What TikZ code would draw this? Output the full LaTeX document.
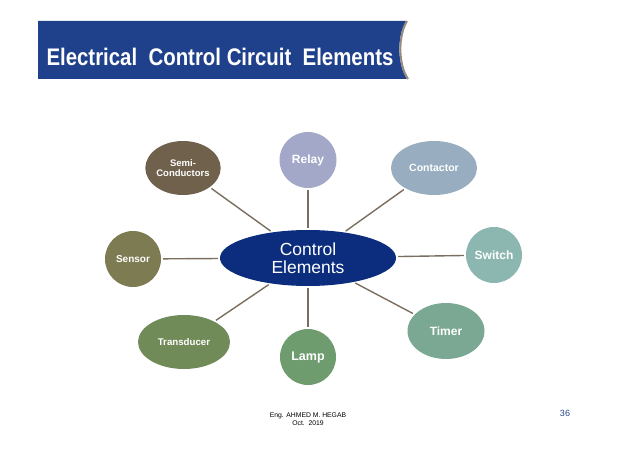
\documentclass[tikz,border=0pt]{standalone}
\usepackage{fontspec}
\setmainfont{Liberation Sans}
\usetikzlibrary{shapes.geometric}

\definecolor{banner}{RGB}{31,64,138}
\definecolor{hubblue}{RGB}{12,45,125}
\definecolor{linkgray}{RGB}{122,110,96}
\definecolor{semic}{RGB}{112,97,76}
\definecolor{relayc}{RGB}{164,168,200}
\definecolor{sensorc}{RGB}{124,123,82}
\definecolor{contc}{RGB}{152,174,192}
\definecolor{switchc}{RGB}{140,182,176}
\definecolor{transc}{RGB}{112,138,88}
\definecolor{lampc}{RGB}{110,156,110}
\definecolor{timerc}{RGB}{122,168,146}
\definecolor{pagenum}{RGB}{40,70,140}

\begin{document}
\begin{tikzpicture}[
  x=1pt, y=-1pt,
  bubble/.style={ellipse, inner sep=0pt, text=white, align=center, font=\bfseries\fontsize{10}{11}\selectfont},
  hub/.style={ellipse, fill=hubblue, inner sep=0pt, text=white, align=center, font=\fontsize{17.5}{18}\selectfont},
  link/.style={draw=linkgray, line width=1.4pt, shorten <=2pt, shorten >=2pt},
  note/.style={align=center, font=\fontsize{6.8}{7.8}\selectfont}
]
\useasboundingbox (0,0) rectangle (638,452);

% title banner
\fill[banner] (38,21) -- (406,21) .. controls (397,36) and (397,64) .. (407,79) -- (38,79) -- cycle;
\draw[draw=linkgray!80, line width=2pt] (407,21) .. controls (398,36) and (398,64) .. (408,79);
\node[anchor=west, text=white, font=\bfseries\fontsize{24}{25}\selectfont] (title) at (43,57)
  {\scalebox{0.85}[1]{Electrical\ \ Control Circuit\ \ Elements}};

% centre
\node[hub, minimum width=176pt, minimum height=56pt] (hub) at (308,258) {Control\\Elements};

% satellites
\node[bubble, fill=semic, minimum width=72pt, minimum height=54pt, font=\bfseries\fontsize{9.5}{10.5}\selectfont] (semi) at (183,168) {Semi-\\Conductors};
\node[bubble, fill=relayc, minimum width=57pt, minimum height=56pt, font=\bfseries\fontsize{12}{13}\selectfont] (relay) at (308,160) {Relay};
\node[bubble, fill=contc, minimum width=86pt, minimum height=54pt, font=\bfseries\fontsize{10.5}{11}\selectfont] (contactor) at (434,168) {Contactor};
\node[bubble, fill=sensorc, minimum width=56pt, minimum height=56pt] (sensor) at (133,259) {Sensor};
\node[bubble, fill=switchc, minimum width=56pt, minimum height=56pt, font=\bfseries\fontsize{12}{13}\selectfont] (switch) at (494,255) {Switch};
\node[bubble, fill=transc, minimum width=92pt, minimum height=54pt, font=\bfseries\fontsize{9.7}{10.5}\selectfont] (transducer) at (184,342) {Transducer};
\node[bubble, fill=lampc, minimum width=56pt, minimum height=56pt, font=\bfseries\fontsize{12.5}{13}\selectfont] (lamp) at (308,357) {Lamp};
\node[bubble, fill=timerc, minimum width=77pt, minimum height=56pt, font=\bfseries\fontsize{12}{13}\selectfont] (timer) at (446,331) {Timer};

\foreach \n in {semi,relay,contactor,sensor,switch,transducer,lamp,timer}
  \draw[link] (hub) -- (\n);

% footer
\node[note] (author) at (308,419) {Eng. AHMED M. HEGAB\\Oct.\ \ 2019};
\node[text=pagenum, font=\fontsize{9}{10}\selectfont] (page) at (565,413) {36};

\end{tikzpicture}
\end{document}
